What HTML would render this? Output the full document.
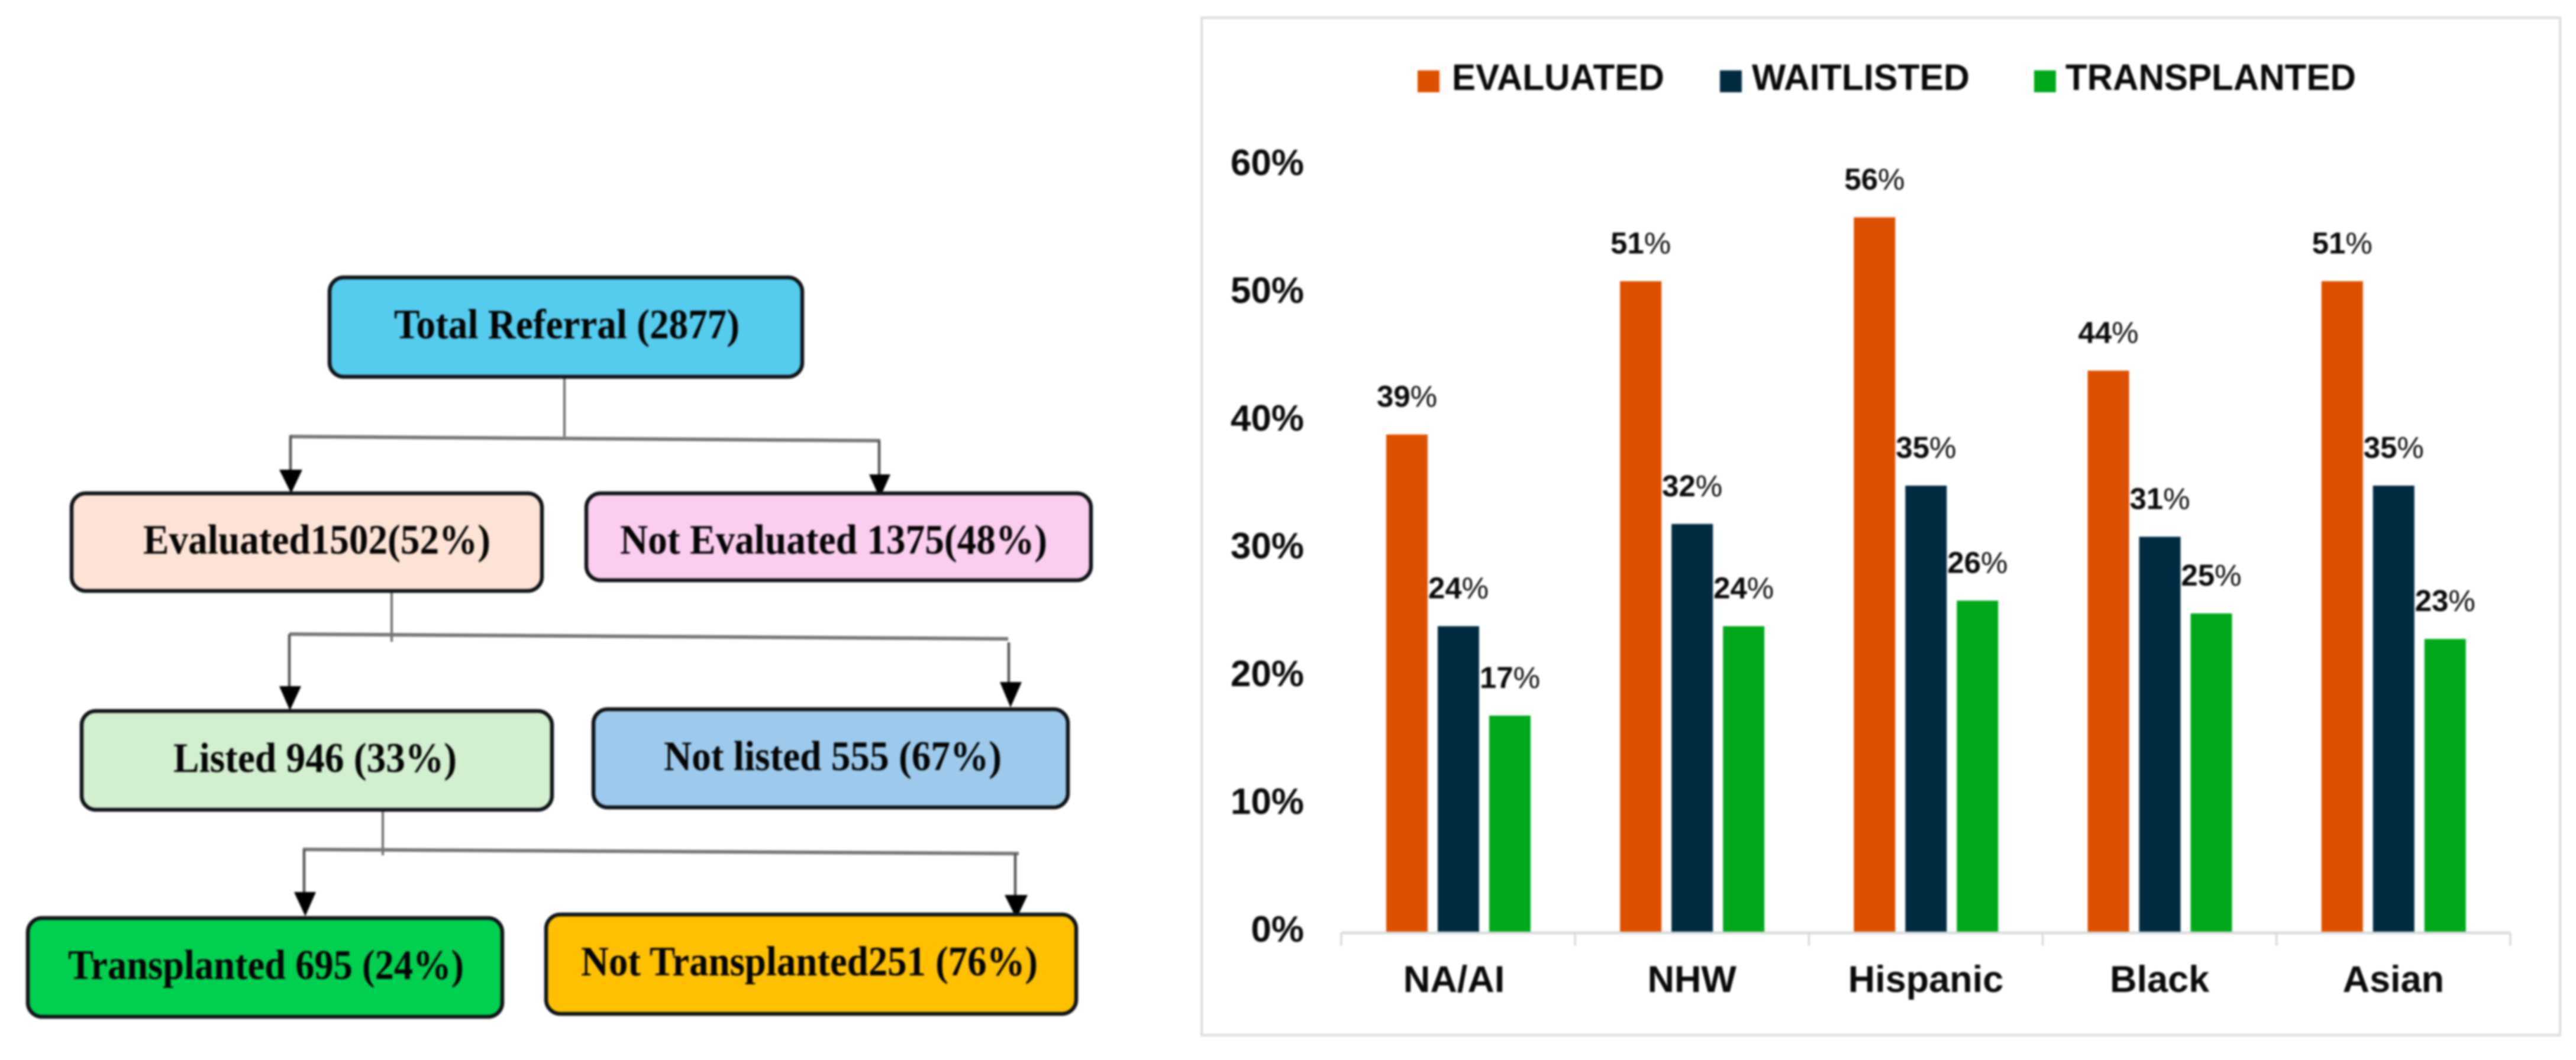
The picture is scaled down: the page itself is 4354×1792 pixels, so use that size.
<!DOCTYPE html>
<html lang="en">
<head>
<meta charset="utf-8">
<title>Transplant referral flow and outcomes by race</title>
<style>
html,body{margin:0;padding:0;background:#fff;width:4354px;height:1792px;overflow:hidden}
svg{display:block;filter:blur(1.5px)}
.flow-label{font-family:"Liberation Serif",serif;font-weight:700;font-size:71px;fill:#050505}
.sans{font-family:"Liberation Sans",sans-serif;fill:#0a0a0a}
</style>
</head>
<body>
<svg id="figure" xmlns="http://www.w3.org/2000/svg" width="4354" height="1792" viewBox="0 0 4354 1792">
<defs>
<style>.box{stroke:#101418;stroke-width:6.5}.trunk{stroke:#707070;stroke-width:4;fill:none}.bus{stroke:#777;stroke-width:6;fill:none}.drop{stroke:#555;stroke-width:4.5;fill:none}</style>
</defs>
<rect width="4354" height="1792" fill="#fff"/>

<g id="flowchart">
  <line class="trunk" x1="954" y1="639" x2="954" y2="738"/>
  <line class="bus" x1="489" y1="738" x2="1488" y2="745"/>
  <line class="drop" x1="491" y1="737" x2="491" y2="800"/>
  <polygon points="472,794 511,794 492,834" fill="#000"/>
  <line class="drop" x1="1486" y1="745" x2="1486" y2="805"/>
  <polygon points="1469,802 1505,802 1487,842" fill="#000"/>

  <line class="trunk" x1="662" y1="1001" x2="662" y2="1085"/>
  <line class="bus" x1="489" y1="1072" x2="1704" y2="1080"/>
  <line class="drop" x1="489" y1="1072" x2="489" y2="1165"/>
  <polygon points="472,1160 509,1160 490,1201" fill="#000"/>
  <line class="drop" x1="1705" y1="1086" x2="1705" y2="1158"/>
  <polygon points="1690,1153 1727,1153 1708,1196" fill="#000"/>

  <line class="trunk" x1="647" y1="1368" x2="647" y2="1446"/>
  <line class="bus" x1="512" y1="1436" x2="1722" y2="1443"/>
  <line class="drop" x1="514" y1="1436" x2="514" y2="1512"/>
  <polygon points="497,1508 534,1508 516,1549" fill="#000"/>
  <line class="drop" x1="1716" y1="1443" x2="1716" y2="1516"/>
  <polygon points="1698,1513 1737,1513 1718,1553" fill="#000"/>

  <g>
    <rect class="box" x="557" y="469" width="799" height="168" rx="24" fill="#55CBEE"/>
    <text class="flow-label" x="666" y="572" textLength="584" lengthAdjust="spacingAndGlyphs">Total Referral (2877)</text>
  </g>
  <g>
    <rect class="box" x="121" y="834" width="795" height="165" rx="24" fill="#FDE3D6"/>
    <text class="flow-label" x="242" y="936" textLength="587" lengthAdjust="spacingAndGlyphs">Evaluated1502(52%)</text>
  </g>
  <g>
    <rect class="box" x="991" y="834" width="853" height="147" rx="24" fill="#FBCDEF"/>
    <text class="flow-label" x="1048" y="936" textLength="722" lengthAdjust="spacingAndGlyphs">Not Evaluated 1375(48%)</text>
  </g>
  <g>
    <rect class="box" x="138" y="1202" width="795" height="167" rx="24" fill="#D2EFD0"/>
    <text class="flow-label" x="293" y="1305" textLength="479" lengthAdjust="spacingAndGlyphs">Listed 946 (33%)</text>
  </g>
  <g>
    <rect class="box" x="1003" y="1199" width="802" height="166" rx="24" fill="#9DCAEC"/>
    <text class="flow-label" x="1122" y="1302" textLength="571" lengthAdjust="spacingAndGlyphs">Not listed 555 (67%)</text>
  </g>
  <g>
    <rect class="box" x="47" y="1552" width="802" height="167" rx="24" fill="#00D050"/>
    <text class="flow-label" x="115" y="1655" textLength="669" lengthAdjust="spacingAndGlyphs">Transplanted 695 (24%)</text>
  </g>
  <g>
    <rect class="box" x="923" y="1546" width="896" height="168" rx="24" fill="#FFC000"/>
    <text class="flow-label" x="982" y="1649" textLength="772" lengthAdjust="spacingAndGlyphs">Not Transplanted251 (76%)</text>
  </g>
</g>

<g id="chart">
  <rect x="2031" y="30" width="2296" height="1720" fill="#fff" stroke="#dcdcdc" stroke-width="4"/>
  <g>
    <g>
      <rect x="2396" y="119" width="37" height="37" fill="#DD5000"/>
      <text class="sans" x="2454" y="152" font-size="62" font-weight="700" textLength="359" lengthAdjust="spacingAndGlyphs">EVALUATED</text>
    </g>
    <g>
      <rect x="2907" y="119" width="37" height="37" fill="#002B41"/>
      <text class="sans" x="2961" y="152" font-size="62" font-weight="700" textLength="368" lengthAdjust="spacingAndGlyphs">WAITLISTED</text>
    </g>
    <g>
      <rect x="3438" y="119" width="37" height="37" fill="#00A81C"/>
      <text class="sans" x="3491" y="152" font-size="62" font-weight="700" textLength="491" lengthAdjust="spacingAndGlyphs">TRANSPLANTED</text>
    </g>
  </g>
  <g id="y-axis"></g>
  <g id="x-axis"></g>
  <g id="bars"></g>
  <g id="value-labels"></g>
</g>
</svg>

<script>
var categories = ["NA/AI", "NHW", "Hispanic", "Black", "Asian"];
var evaluated = [39, 51, 56, 44, 51];
var waitlisted = [24, 32, 35, 31, 35];
var transplanted = [17, 24, 26, 25, 23];
var yTicks = [0, 10, 20, 30, 40, 50, 60];

var NS = "http://www.w3.org/2000/svg";
var plotLeft = 2267, plotRight = 4243, plotBottom = 1577, pxPerPercent = 21.6;
var barWidth = 70, barStep = 87, barLead = 76;
var seriesList = [
  {key: "evaluated", values: evaluated, color: "#DD5000"},
  {key: "waitlisted", values: waitlisted, color: "#002B41"},
  {key: "transplanted", values: transplanted, color: "#00A81C"}
];

function yScale(v) { return plotBottom - v * pxPerPercent; }
function bandLeft(i) { return plotLeft + i * (plotRight - plotLeft) / categories.length; }
function barX(i, s) { return bandLeft(i) + barLead + s * barStep; }

function make(tag, parent) {
  var el = document.createElementNS(NS, tag);
  parent.appendChild(el);
  return el;
}

var yAxis = document.getElementById("y-axis");
var xAxis = document.getElementById("x-axis");
var barsG = document.getElementById("bars");
var labelsG = document.getElementById("value-labels");

yTicks.forEach(function (t) {
  var el = make("text", yAxis);
  
  
  el.setAttribute("class", "sans");
  el.setAttribute("x", 2204);
  el.setAttribute("y", yScale(t) + 15);
  el.setAttribute("text-anchor", "end");
  el.setAttribute("font-size", "62");
  el.setAttribute("font-weight", "700");
  el.textContent = t + "%";
});

var axisLine = make("line", xAxis);


axisLine.setAttribute("x1", plotLeft);
axisLine.setAttribute("x2", plotRight);
axisLine.setAttribute("y1", plotBottom);
axisLine.setAttribute("y2", plotBottom);
axisLine.setAttribute("stroke", "#dadddd");
axisLine.setAttribute("stroke-width", "5");

for (var k = 0; k <= categories.length; k++) {
  var tick = make("line", xAxis);
  
  
  tick.setAttribute("x1", bandLeft(k));
  tick.setAttribute("x2", bandLeft(k));
  tick.setAttribute("y1", plotBottom);
  tick.setAttribute("y2", plotBottom + 22);
  tick.setAttribute("stroke", "#d9d9d9");
  tick.setAttribute("stroke-width", "3.5");
}

categories.forEach(function (name, i) {
  var catLabel = make("text", xAxis);
  
  
  catLabel.setAttribute("class", "sans");
  var labelNudge = i === 0 ? -7 : 0;
  catLabel.setAttribute("x", bandLeft(i) + (plotRight - plotLeft) / categories.length / 2 + labelNudge);
  catLabel.setAttribute("y", 1677);
  catLabel.setAttribute("text-anchor", "middle");
  catLabel.setAttribute("font-size", "63");
  catLabel.setAttribute("font-weight", "700");
  catLabel.textContent = name;

  seriesList.forEach(function (series, s) {
    var v = series.values[i];
    var bar = make("rect", barsG);
    
    
    bar.setAttribute("x", barX(i, s));
    bar.setAttribute("y", yScale(v));
    bar.setAttribute("width", barWidth);
    bar.setAttribute("height", plotBottom - 2 - yScale(v));
    bar.setAttribute("fill", series.color);

    var lab = make("text", labelsG);
    
    
    lab.setAttribute("class", "sans");
    lab.setAttribute("x", barX(i, s) + barWidth / 2);
    lab.setAttribute("y", yScale(v) - 47);
    lab.setAttribute("text-anchor", "middle");
    lab.setAttribute("font-size", "51");
    var digits = make("tspan", lab);
    digits.setAttribute("font-weight", "700");
    digits.textContent = String(v);
    var pct = make("tspan", lab);
    pct.textContent = "%";
  });
});
</script>
</body>
</html>
